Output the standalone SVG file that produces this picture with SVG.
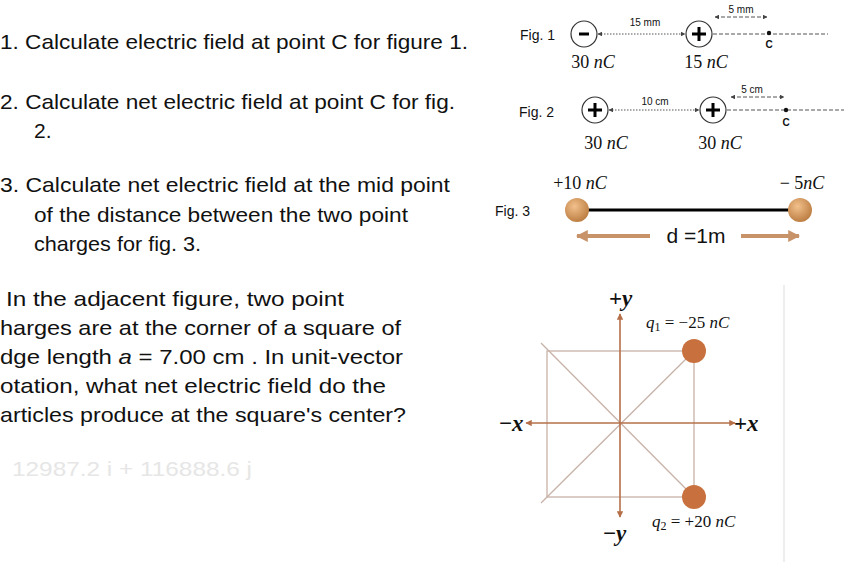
<svg xmlns="http://www.w3.org/2000/svg" width="864" height="568" viewBox="0 0 864 568">
<style>
.t{font-family:"Liberation Sans",Arial,sans-serif;font-size:21px;fill:#111}
.s{font-family:"Liberation Sans",Arial,sans-serif;font-size:14px;fill:#111}
.xs{font-family:"Liberation Sans",Arial,sans-serif;font-size:10px;fill:#111}
.m{font-family:"Liberation Serif","Times New Roman",serif;font-size:18px;fill:#111}
.big{font-size:23px;font-weight:bold}
.q{font-size:17px}
.mi{font-style:italic}
.ch{fill:#fff;stroke:#333;stroke-width:1.2}
.sg{stroke:#000;stroke-width:3}
.dot{stroke:#555;stroke-width:1.2;stroke-dasharray:1.5 1.5}
.dash{stroke:#555;stroke-width:1.2;stroke-dasharray:4 2}
.ax{stroke:#b5704a;stroke-width:1.6}
.sq{stroke:#c8b2a8;stroke-width:1.3;fill:none}
</style>
<defs>
<marker id="ah" viewBox="0 0 10 10" refX="9" refY="5" markerWidth="4" markerHeight="4" orient="auto-start-reverse"><path d="M0,0L10,5L0,10z" fill="#444"/></marker>
<marker id="ab" viewBox="0 0 10 10" refX="9" refY="5" markerWidth="4" markerHeight="4" orient="auto-start-reverse"><path d="M0,0L10,5L0,10z" fill="#b5704a"/></marker>
<marker id="ac" viewBox="0 0 10 10" refX="9" refY="5" markerWidth="3" markerHeight="3" orient="auto-start-reverse"><path d="M0,0L10,5L0,10z" fill="#c9936a"/></marker>
<radialGradient id="ball" cx="0.4" cy="0.35" r="0.7"><stop offset="0" stop-color="#f2c08c"/><stop offset="1" stop-color="#b97a3e"/></radialGradient>
</defs>
<rect width="864" height="568" fill="#fff"/>
<g id="questions">
<text class="t" x="0" y="49" textLength="468" lengthAdjust="spacingAndGlyphs">1.  Calculate electric field at point C for figure 1.</text>
<text class="t" x="0" y="109" textLength="455" lengthAdjust="spacingAndGlyphs">2.  Calculate net electric field at point C for fig.</text>
<text class="t" x="34" y="138">2.</text>
<text class="t" x="0" y="192" textLength="450" lengthAdjust="spacingAndGlyphs">3.  Calculate net electric field at the mid point</text>
<text class="t" x="34" y="222" textLength="374" lengthAdjust="spacingAndGlyphs">of the distance between the two point</text>
<text class="t" x="34" y="251" textLength="167" lengthAdjust="spacingAndGlyphs">charges for fig. 3.</text>
<text class="t" x="6" y="306" textLength="338" lengthAdjust="spacingAndGlyphs">In the adjacent figure, two point</text>
<text class="t" x="0" y="335" textLength="401" lengthAdjust="spacingAndGlyphs">harges  are at the corner of a square of</text>
<text class="t" x="0" y="364" textLength="403" lengthAdjust="spacingAndGlyphs">dge length <tspan font-style="italic">a</tspan> = 7.00 cm . In unit-vector</text>
<text class="t" x="0" y="393" textLength="386" lengthAdjust="spacingAndGlyphs">otation, what net electric field do the</text>
<text class="t" x="0" y="422" textLength="406" lengthAdjust="spacingAndGlyphs">articles produce at the square's center?</text>
<text class="t" x="12" y="476" style="fill:#e6e6e6" textLength="240" lengthAdjust="spacingAndGlyphs">12987.2 i + 116888.6 j</text>
</g>
<g id="connectors">
<line class="dot" x1="598" y1="34" x2="685" y2="34" marker-start="url(#ah)" marker-end="url(#ah)"/>
<line class="dash" x1="713" y1="34" x2="828" y2="34"/>
<line class="dash" x1="715" y1="17" x2="767" y2="17" marker-start="url(#ah)" marker-end="url(#ah)"/>
<line class="dot" x1="609" y1="110" x2="699" y2="110" marker-start="url(#ah)" marker-end="url(#ah)"/>
<line class="dash" x1="727" y1="110" x2="844" y2="110"/>
<line class="dash" x1="731" y1="97" x2="784" y2="97" marker-start="url(#ah)" marker-end="url(#ah)"/>
<line x1="577" y1="210" x2="800" y2="210" stroke="#000" stroke-width="3"/>
<line x1="650" y1="236" x2="577" y2="236" stroke="#c9936a" stroke-width="4" marker-end="url(#ac)"/>
<line x1="741" y1="236" x2="799" y2="236" stroke="#c9936a" stroke-width="4" marker-end="url(#ac)"/>
</g>
<g id="fig1">
<text class="s" x="520" y="40">Fig. 1</text>
<circle class="ch" cx="584" cy="34" r="13"/>
<line x1="579" y1="34" x2="589" y2="34" class="sg"/>
<circle class="ch" cx="699" cy="34" r="13"/>
<path d="M692,34H706M699,27V41" class="sg"/>
<circle cx="769" cy="33" r="2.2" fill="#111"/>
<text class="xs" x="769" y="48" text-anchor="middle" font-weight="bold">C</text>
<text class="xs" x="645" y="26" text-anchor="middle">15 mm</text>
<text class="xs" x="741" y="13" text-anchor="middle">5 mm</text>
<text class="m" x="593" y="68" text-anchor="middle">30 <tspan class="mi">nC</tspan></text>
<text class="m" x="706" y="68" text-anchor="middle">15 <tspan class="mi">nC</tspan></text>
</g>
<g id="fig2">
<text class="s" x="519" y="117">Fig. 2</text>
<circle class="ch" cx="595" cy="110" r="13"/>
<path d="M588,110H602M595,103V117" class="sg"/>
<circle class="ch" cx="713" cy="110" r="13"/>
<path d="M706,110H720M713,103V117" class="sg"/>
<circle cx="786" cy="110" r="2.2" fill="#111"/>
<text class="xs" x="786" y="126" text-anchor="middle" font-weight="bold">C</text>
<text class="xs" x="655" y="105" text-anchor="middle">10 cm</text>
<text class="xs" x="752" y="93" text-anchor="middle">5 cm</text>
<text class="m" x="606" y="149" text-anchor="middle">30 <tspan class="mi">nC</tspan></text>
<text class="m" x="720" y="149" text-anchor="middle">30 <tspan class="mi">nC</tspan></text>
</g>
<g id="fig3">
<text class="s" x="495" y="216">Fig. 3</text>
<circle cx="577" cy="210" r="12" fill="url(#ball)"/>
<circle cx="800" cy="210" r="12" fill="url(#ball)"/>
<text class="m" x="580" y="189" text-anchor="middle">+10 <tspan class="mi">nC</tspan></text>
<text class="m" x="802" y="189" text-anchor="middle">− 5<tspan class="mi">nC</tspan></text>
<text class="t" x="696" y="243" text-anchor="middle">d =1m</text>
</g>
<g id="square">
<line x1="784" y1="285" x2="784" y2="562" stroke="#eee" stroke-width="2"/>
<rect class="sq" x="547" y="351" width="147" height="146"/>
<line class="sq" x1="541" y1="343" x2="694" y2="497"/>
<line class="sq" x1="541" y1="503" x2="694" y2="351"/>
<line class="ax" x1="620" y1="423" x2="620" y2="314" marker-end="url(#ab)"/>
<line class="ax" x1="620" y1="423" x2="620" y2="517" marker-end="url(#ab)"/>
<line class="ax" x1="620" y1="423" x2="526" y2="423" marker-end="url(#ab)"/>
<line class="ax" x1="620" y1="423" x2="735" y2="423" marker-end="url(#ab)"/>
<circle cx="694" cy="351" r="12" fill="#c8713e"/>
<circle cx="694" cy="497" r="12" fill="#c8713e"/>
<text class="m big" x="609" y="306">+<tspan class="mi">y</tspan></text>
<text class="m big" x="603" y="541">−<tspan class="mi">y</tspan></text>
<text class="m big" x="499" y="431">−<tspan class="mi">x</tspan></text>
<text class="m big" x="734" y="431">+<tspan class="mi">x</tspan></text>
<text class="m q" x="646" y="328"><tspan class="mi">q</tspan><tspan style="font-size:12px" dy="3">1</tspan><tspan dy="-3"> = −25 </tspan><tspan class="mi">nC</tspan></text>
<text class="m q" x="652" y="527"><tspan class="mi">q</tspan><tspan style="font-size:12px" dy="3">2</tspan><tspan dy="-3"> = +20 </tspan><tspan class="mi">nC</tspan></text>
</g>
</svg>
